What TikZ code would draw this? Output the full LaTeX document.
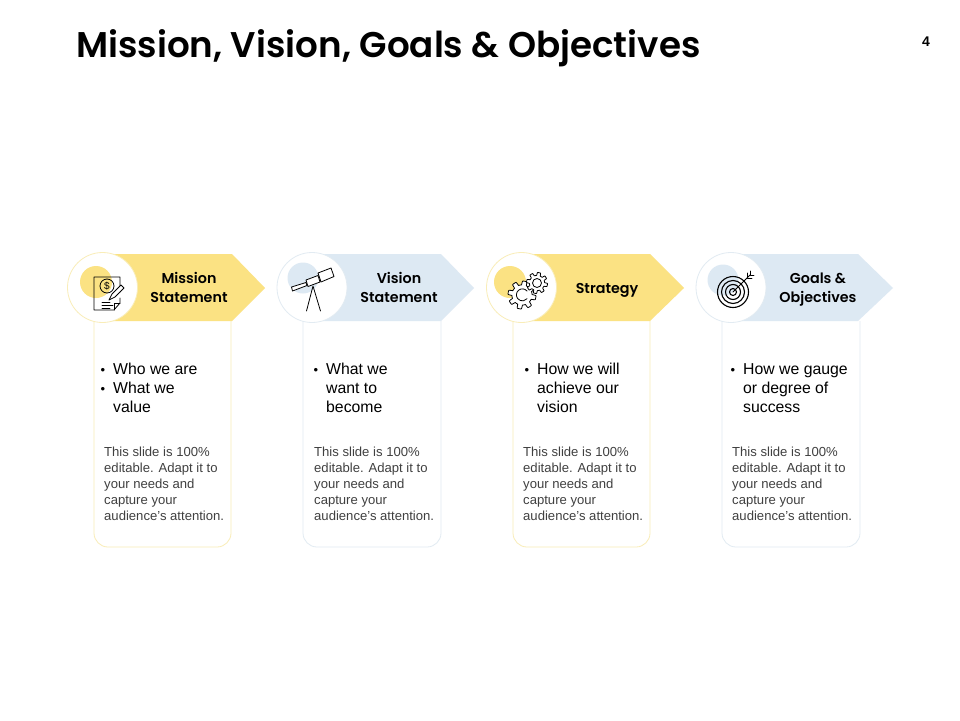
\documentclass[tikz,border=0pt]{standalone}
\usepackage{fontspec}
\setmainfont{Liberation Sans}
\newfontfamily\titlefont{Poppins SemiBold}
\definecolor{goldband}{HTML}{FBE283}
\definecolor{skyband}{HTML}{DDE9F3}
\definecolor{goldline}{HTML}{F9EDB8}
\definecolor{skyline}{HTML}{E2EBF2}
\definecolor{softgray}{HTML}{404040}
\newcommand{\dotitem}{\llap{\fontsize{13}{19}\selectfont•\hspace{8pt}}}
\tikzset{
  panelline/.style={line width=0.8pt},
  headtext/.style={align=center, font=\fontsize{14.3}{19}\selectfont\titlefont, text=black, inner sep=0},
  dottext/.style={anchor=north west, align=left, font=\fontsize{15.8}{19}\selectfont, text=black, inner sep=0, execute at begin node=\strut},
  smalltext/.style={anchor=north west, align=left, font=\fontsize{13.1}{16}\selectfont, text=softgray, inner sep=0, execute at begin node=\strut},
  iconline/.style={draw=black, line width=0.8pt, line join=round, line cap=round},
  gearicon/.pic={
    \draw[iconline, fill=white] plot[samples=193, domain=0:360] (\x:{#1*(0.86+0.14*max(-1,min(1,3*sin(8*\x))))}) -- cycle;
  }
}
\begin{document}
\begin{tikzpicture}[x=1pt, y=-1pt]
\useasboundingbox (0,0) rectangle (960,720);
\fill[white] (0,0) rectangle (960,720);
\node[anchor=west, inner sep=0, font=\fontsize{35.7}{40}\selectfont\titlefont] (slidetitle) at (76,48) {Mission, Vision, Goals \& Objectives};
\node[inner sep=0, font=\fontsize{14}{16}\selectfont\bfseries] (pagenum) at (926,42) {4};
% panels
\draw[goldline, panelline] (94,321) [rounded corners=14] -- (94,547) -- (231,547) [sharp corners] -- (231,321);
\draw[skyline, panelline] (303,321) [rounded corners=14] -- (303,547) -- (441,547) [sharp corners] -- (441,321);
\draw[goldline, panelline] (513,321) [rounded corners=14] -- (513,547) -- (650,547) [sharp corners] -- (650,321);
\draw[skyline, panelline] (722,321) [rounded corners=14] -- (722,547) -- (860,547) [sharp corners] -- (860,321);
% bands
\fill[goldband] (102,254) -- (232,254) -- (265,288) -- (232,321) -- (102,321) -- cycle;
\fill[skyband] (312,254) -- (441,254) -- (474,288) -- (441,321) -- (312,321) -- cycle;
\fill[goldband] (521,254) -- (650,254) -- (684,288) -- (650,321) -- (521,321) -- cycle;
\fill[skyband] (731,254) -- (858,254) -- (893,288) -- (858,321) -- (731,321) -- cycle;
% discs
\draw[goldline, panelline, fill=white] (102.5,287.5) circle (35);
\draw[skyline, panelline, fill=white] (312,287.5) circle (35);
\draw[goldline, panelline, fill=white] (521.5,287.5) circle (35);
\draw[skyline, panelline, fill=white] (731,287.5) circle (35);
\fill[goldband] (96,282) circle (16);
\fill[skyband] (303,278) circle (15.5);
\fill[goldband] (510,282) circle (16);
\fill[skyband] (723,280) circle (15.5);
% mission icon
\draw[iconline] (120,292) -- (120,277) -- (94,277) -- (94,310) -- (114,310) -- (120,303) -- (120,298);
\draw[iconline] (114,310) -- (114,303) -- (120,303);
\draw[iconline] (107,286) circle (7);
\node[inner sep=0, font=\fontsize{10}{10}\selectfont] (dollar) at (107,286) {\$};
\draw[iconline, fill=white] (109,300) -- (112,294) -- (121,285) -- (124,288) -- (115,297) -- cycle;
\draw[iconline] (102,302) -- (110,302) (102,305) -- (113,305) (102,308) -- (110,308);
% telescope icon
\draw[iconline, fill=white] (291.5,287) -- (306,282.5) -- (307,285.5) -- (292.5,291) -- cycle;
\draw[iconline, fill=white] (306,280) -- (318,275.5) -- (320,282) -- (308,286.5) -- cycle;
\draw[iconline, fill=white] (318,273) -- (331,268) -- (334,276.5) -- (321,282) -- cycle;
\draw[iconline] (313,286) -- (306.5,311) (313,286) -- (320.5,311);
% gears icon
\pic at (522,295) {gearicon=14};
\draw[iconline] (527,291) arc[start angle=-40, end angle=-320, radius=6] ;
\pic at (537,283) {gearicon=10.5};
\draw[iconline] (537,283) circle (4.5);
% target icon
\draw[iconline, line width=1.1pt] (733,292) circle (15.5);
\draw[iconline, line width=1.1pt] (733,292) circle (11.5);
\draw[iconline, line width=1.1pt] (733,292) circle (7.5);
\draw[iconline, line width=1.1pt] (733,292) circle (3.5);
\draw[iconline] (733,292) -- (750,275);
\draw[iconline] (747,273) -- (747,278) -- (752,278) (750,271) -- (750,275) -- (754,275);
% headings
\node[headtext] (missionhead) at (189,287) {Mission\\Statement};
\node[headtext] (visionhead) at (399,287) {Vision\\Statement};
\node[headtext] (strategyhead) at (607,290) {Strategy};
\node[headtext] (goalshead) at (818,290) {Goals \&\\Objectives};
% bullets
\node[dottext] (missionlist) at (113,363) {\dotitem Who we are\\\dotitem What we\\value};
\node[dottext] (visionlist) at (326,363) {\dotitem What we\\want to\\become};
\node[dottext] (strategylist) at (537,363) {\dotitem How we will\\achieve our\\vision};
\node[dottext] (goalslist) at (743,363) {\dotitem How we gauge\\or degree of\\success};
% small print
\node[smalltext] (missionnote) at (104,447) {This slide is 100\%\\editable. Adapt it to\\your needs and\\capture your\\audience's attention.};
\node[smalltext] (visionnote) at (314,447) {This slide is 100\%\\editable. Adapt it to\\your needs and\\capture your\\audience's attention.};
\node[smalltext] (strategynote) at (523,447) {This slide is 100\%\\editable. Adapt it to\\your needs and\\capture your\\audience's attention.};
\node[smalltext] (goalsnote) at (732,447) {This slide is 100\%\\editable. Adapt it to\\your needs and\\capture your\\audience's attention.};
\end{tikzpicture}
\end{document}
